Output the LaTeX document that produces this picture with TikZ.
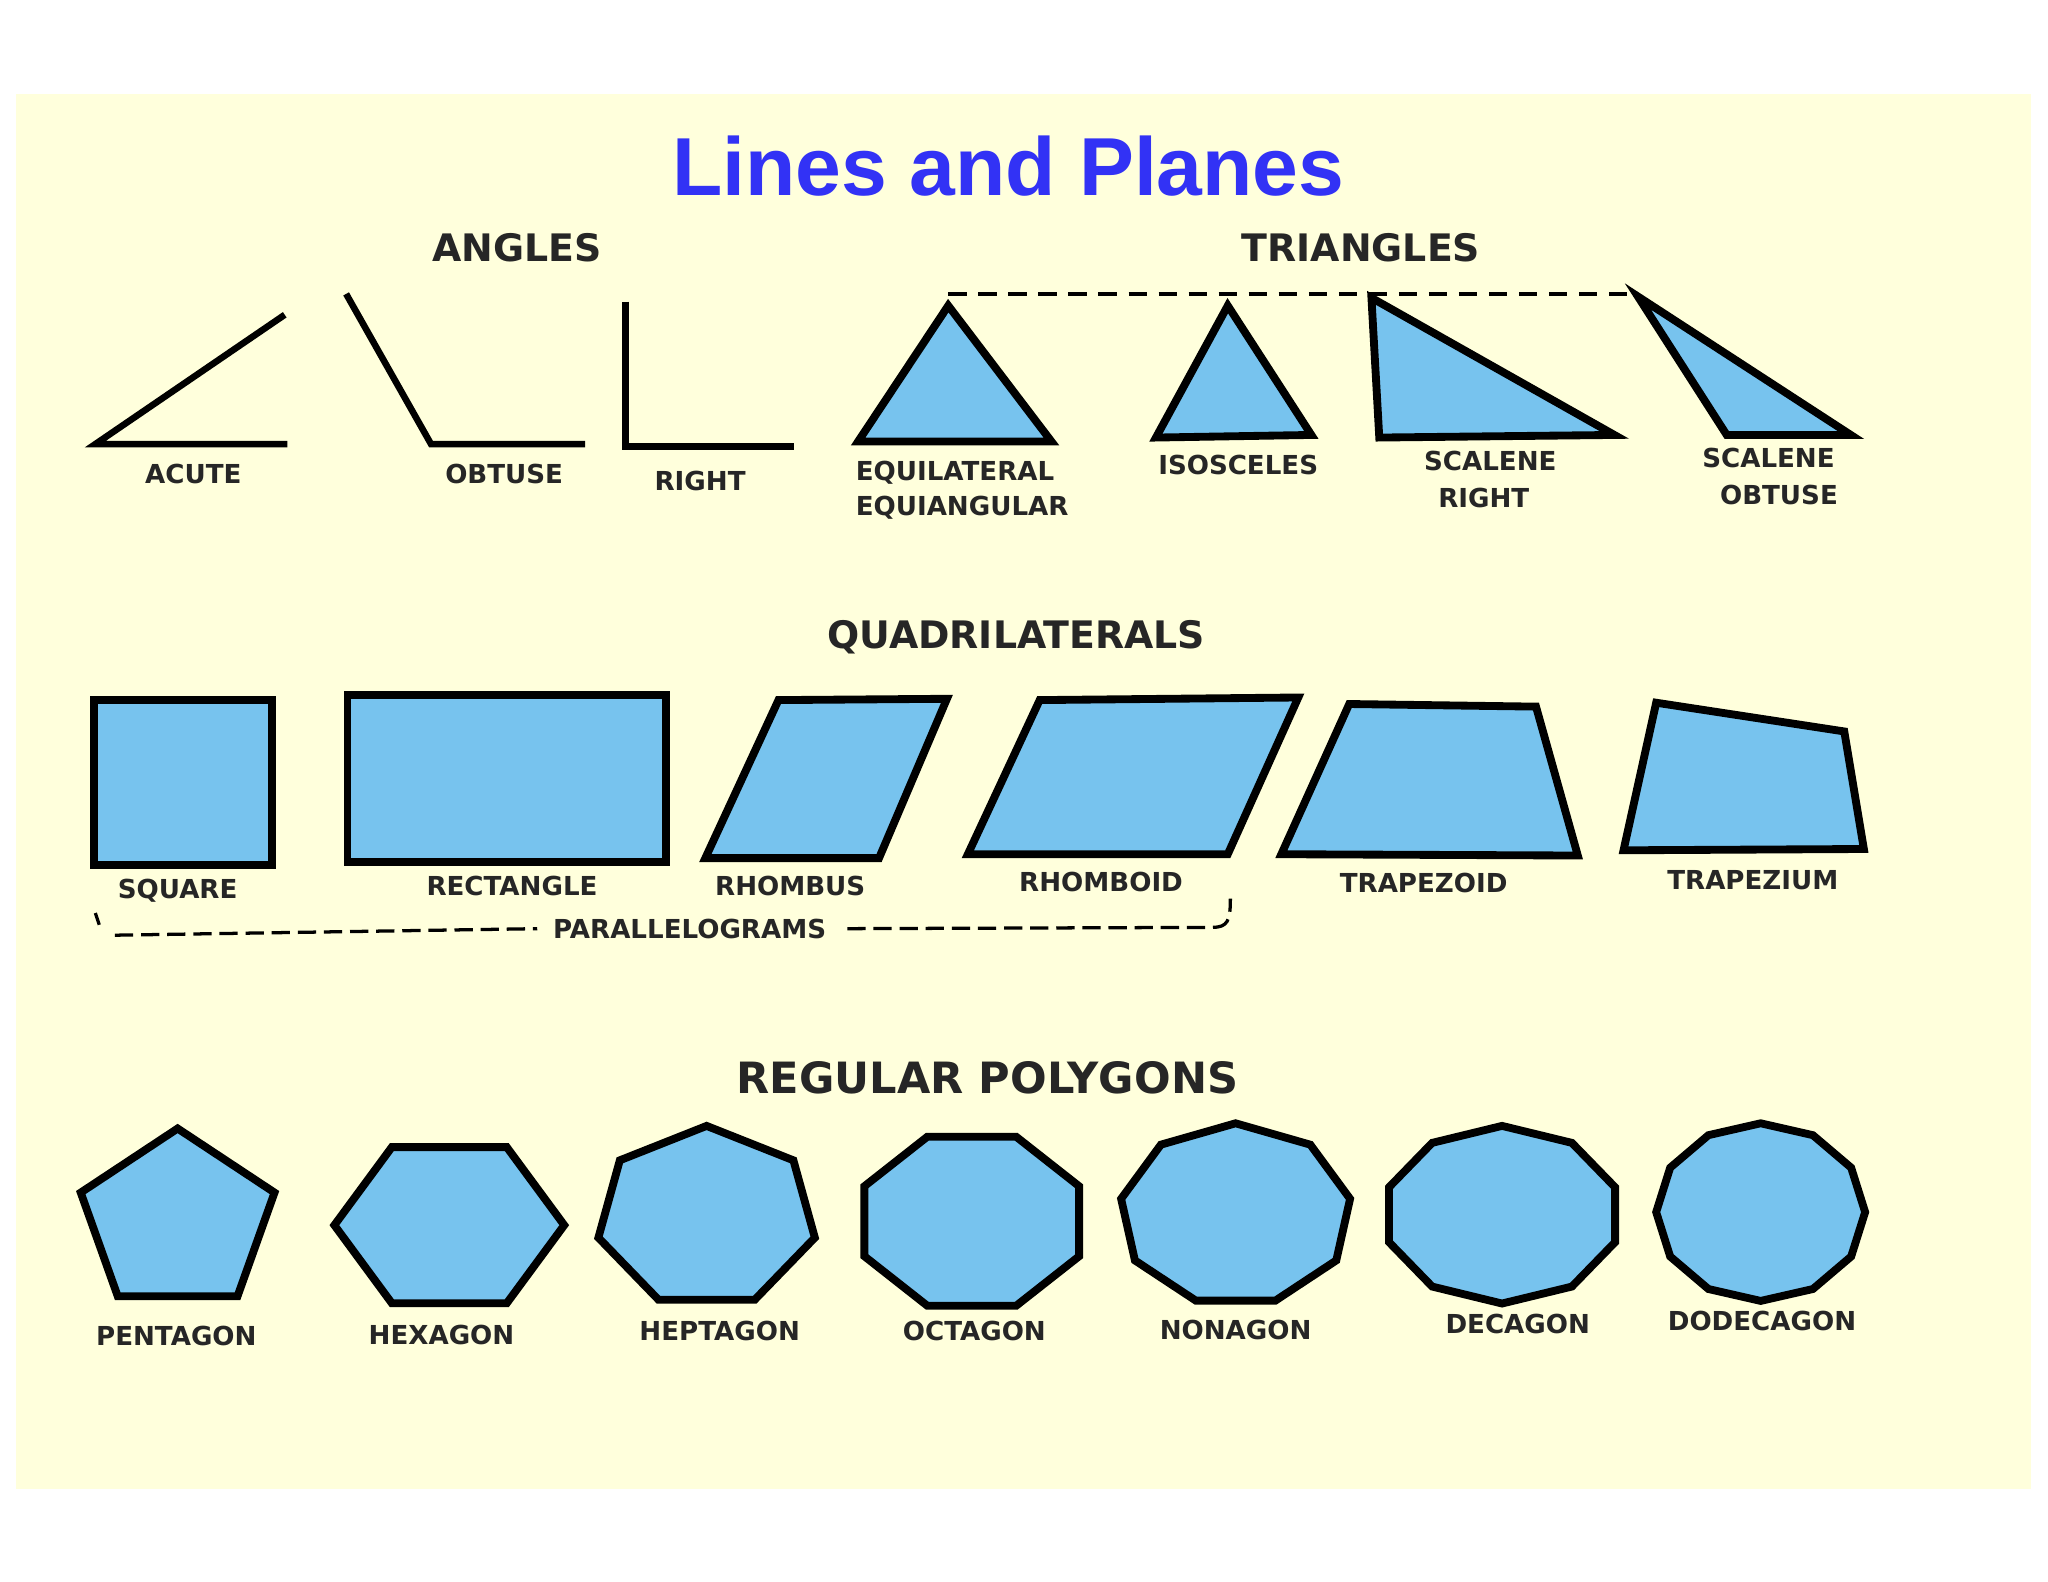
\documentclass[tikz,border=0pt]{standalone}
\usepackage{fontspec}
\setmainfont{DejaVu Sans}
\newfontfamily\titlefont{Liberation Sans}
\begin{document}
\begin{tikzpicture}[x=1pt,y=-1pt,
  shp/.style={draw=black,line width=6pt,fill=shapeblue,line join=miter},
  ln/.style={draw=black,line width=5pt},
  lbl/.style={font=\bfseries\fontsize{20}{22}\selectfont,text=black!85,inner sep=0},
  hdr/.style={font=\bfseries\fontsize{29}{32}\selectfont,text=black!85,inner sep=0}]
\definecolor{shapeblue}{HTML}{77C3EE}
\definecolor{bg}{HTML}{FFFFDC}
\definecolor{ttl}{RGB}{50,50,245}
\useasboundingbox (0,0) rectangle (1568,1211);
\fill[bg] (12,72) rectangle (1555,1140);
\node[font=\titlefont\bfseries\fontsize{63}{70}\selectfont,text=ttl] (title) at (772,127) {Lines and Planes};
\node[hdr] (hA) at (396,190) {ANGLES};
\node[hdr] (hT) at (1042,190) {TRIANGLES};
\node[hdr] (hQ) at (778,488) {QUADRILATERALS};
\node[hdr,font=\bfseries\fontsize{33}{36}\selectfont] (hP) at (756,825) {REGULAR POLYGONS};
% angles
\draw[ln] (220,340) -- (73,340) -- (218,241);
\draw[ln] (265,225) -- (330,340) -- (448,340);
\draw[ln] (479,231) -- (479,342) -- (608,342);
\node[lbl] at (148,363) {ACUTE};
\node[lbl] at (386,363) {OBTUSE};
\node[lbl] at (536,368) {RIGHT};
% triangles
\draw[line width=2.5pt,dash pattern=on 14pt off 9pt] (726,225) -- (1254,225);
\draw[shp] (657,338) -- (726,234) -- (805,338) -- cycle;
\draw[shp] (885,335) -- (940,234) -- (1004,333) -- cycle;
\draw[shp] (1050,228) -- (1056,335) -- (1236,333) -- cycle;
\draw[shp] (1254,227) -- (1322,333) -- (1417,333) -- cycle;
\node[lbl,anchor=west] at (655,362) {EQUILATERAL};
\node[lbl,anchor=west] at (655,389) {EQUIANGULAR};
\node[lbl] at (948,356) {ISOSCELES};
\node[lbl] at (1141,353) {SCALENE};
\node[lbl] at (1136,381) {RIGHT};
\node[lbl] at (1354,351) {SCALENE};
\node[lbl] at (1362,379) {OBTUSE};
% quadrilaterals
\draw[shp] (72,536) rectangle (208,662);
\draw[shp] (266,532) rectangle (510,660);
\draw[shp] (540,657) -- (596,536) -- (725,535) -- (673,657) -- cycle;
\draw[shp] (741,654) -- (796,536) -- (994,534) -- (940,654) -- cycle;
\draw[shp] (981,654) -- (1033,539) -- (1176,541) -- (1208,655) -- cycle;
\draw[shp] (1243,651) -- (1268,538) -- (1412,560) -- (1427,650) -- cycle;
\node[lbl] at (136,682) {SQUARE};
\node[lbl] at (392,678) {RECTANGLE};
\node[lbl] at (605,678) {RHOMBUS};
\node[lbl] at (843,675) {RHOMBOID};
\node[lbl] at (1090,676) {TRAPEZOID};
\node[lbl] at (1342,674) {TRAPEZIUM};
\node[lbl] (par) at (528,711) {PARALLELOGRAMS};
\draw[line width=2.5pt] (73,699) -- (76,708);
\draw[line width=2.5pt,dash pattern=on 14pt off 6pt] (88,716) -- ([xshift=-12pt]par.west);
\draw[line width=2.5pt,dash pattern=on 14pt off 6pt] ([xshift=16pt]par.east) -- (928,710) .. controls (940,710) and (942,705) .. (942,688);
% polygons
\foreach \cx/\cy/\rx/\ry/\n/\rot in {136/935/78/71/5/90, 344/938/88/69/6/0, 541/932/85/70/7/90, 744/935/89/70/8/112.5, 946/930/89/70/9/90, 1150/930/91/68/10/90, 1348/928/80/68/12/90}{
  \draw[shp] ({\cx+\rx*cos(\rot)},{\cy-\ry*sin(\rot)})
    \foreach \k in {1,...,\n}{ -- ({\cx+\rx*cos(\rot+360*\k/\n)},{\cy-\ry*sin(\rot+360*\k/\n)}) } -- cycle;
}
\node[lbl] at (135,1023) {PENTAGON};
\node[lbl] at (338,1022) {HEXAGON};
\node[lbl] at (551,1019) {HEPTAGON};
\node[lbl] at (746,1019) {OCTAGON};
\node[lbl] at (946,1018) {NONAGON};
\node[lbl] at (1162,1014) {DECAGON};
\node[lbl] at (1349,1011) {DODECAGON};
\end{tikzpicture}
\end{document}
